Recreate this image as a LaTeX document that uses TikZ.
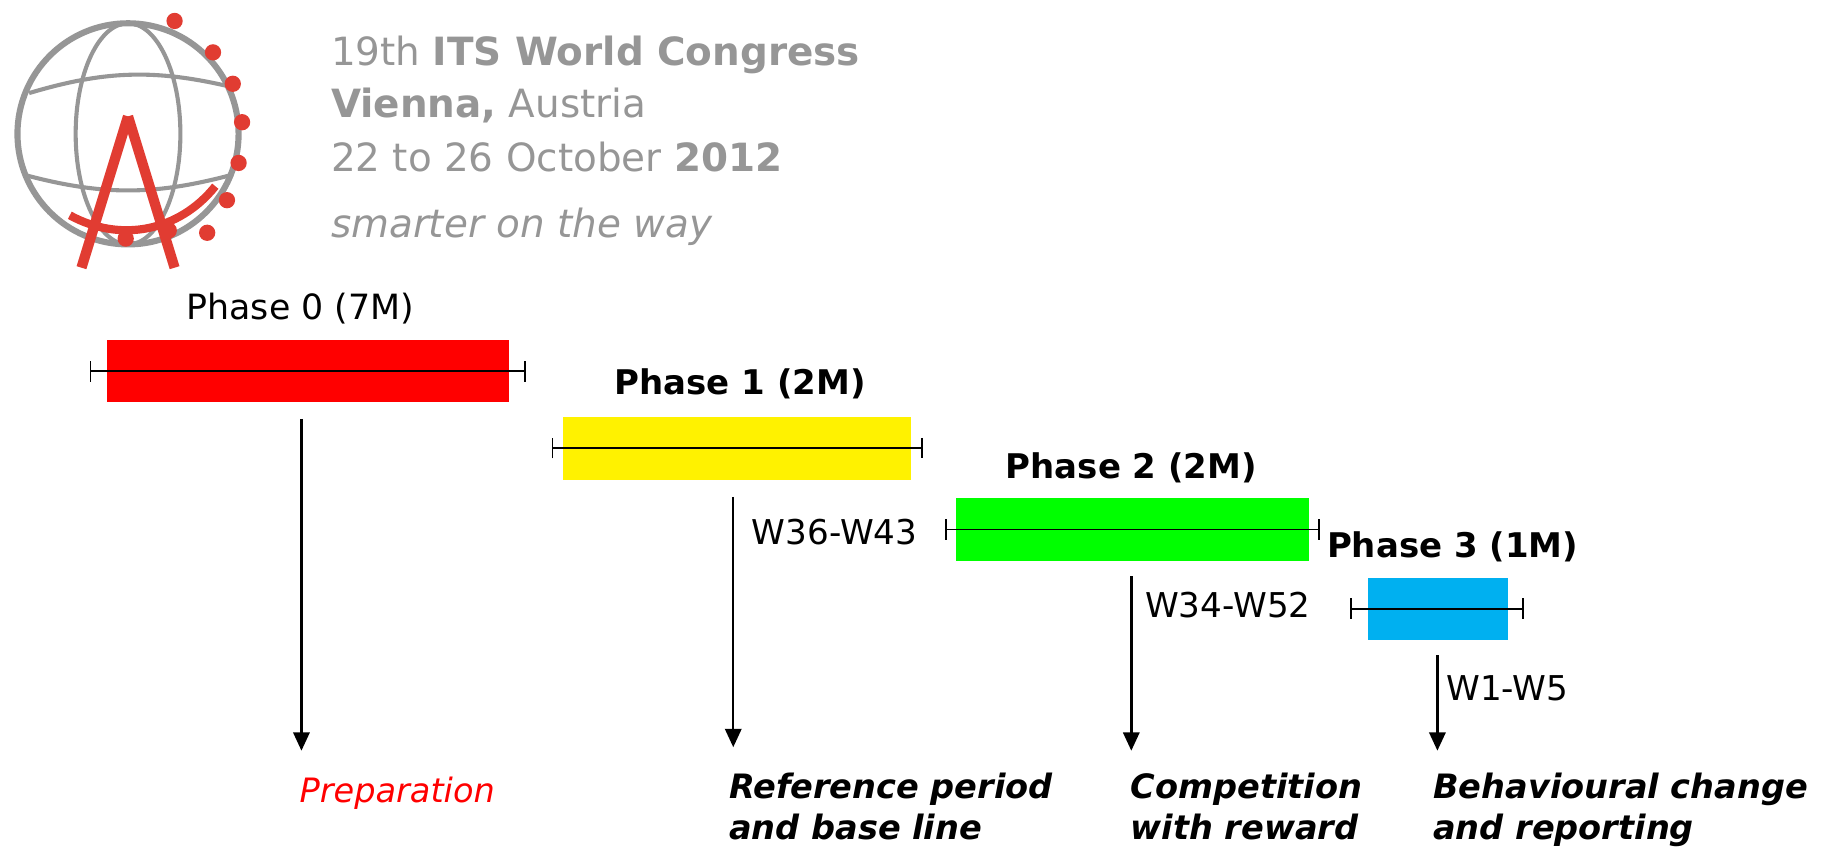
\documentclass[tikz,border=0pt]{standalone}
\usepackage{fontspec}
\setmainfont{DejaVu Sans}
\usetikzlibrary{arrows.meta}
\definecolor{logogray}{RGB}{150,150,150}
\definecolor{logored}{RGB}{225,60,50}
\definecolor{barblue}{RGB}{0,176,240}
\tikzset{
  phaselabel/.style={font=\fontsize{8.5}{10}\selectfont},
  phasebold/.style={font=\fontsize{8.3}{10}\selectfont\bfseries},
  weeklabel/.style={font=\fontsize{8.35}{10}\selectfont},
  goal/.style={font=\fontsize{8.2}{10}\selectfont\bfseries\itshape, align=left, anchor=north west},
  logotext/.style={anchor=west, logogray, font=\fontsize{9.5}{11}\selectfont},
  down/.style={-{Triangle[length=4.5pt,width=4pt]}, semithick},
  span/.style={{Bar[width=5pt]}-{Bar[width=5pt]}, thin}
}
\begin{document}
\begin{tikzpicture}[x=0.01cm, y=-0.01cm]
        \useasboundingbox (0,0) rectangle (1568,740);
        % Logo
        \draw[logogray, line width=1.5pt] (110,115) circle (95);
        \draw[logogray, line width=1pt] (110,115) ellipse (45 and 95);
        \draw[logogray, line width=1pt] (25,80) to[bend left=15] (200,75);
        \draw[logogray, line width=1pt] (20,150) to[bend right=15] (200,150);
        \draw[logored, line width=2.5pt] (110,100) -- (70,230);
        \draw[logored, line width=2.5pt] (110,100) -- (150,230);
        \draw[logored, line width=2pt] (60,185) to[bend right=40] (185,160);
        \foreach \px/\py in {150/18, 183/45, 200/72, 208/105, 205/140, 195/172, 178/200, 145/198, 108/205}
          \fill[logored] (\px,\py) circle (7);
        \node[logotext] (title1) at (272,47) {19th \textbf{ITS World Congress}};
        \node[logotext] (title2) at (272,91) {\textbf{Vienna,} Austria};
        \node[logotext] (title3) at (272,135) {22 to 26 October \textbf{2012}};
        \node[logotext, font=\fontsize{9.5}{11}\selectfont\itshape] (title4) at (272,195) {smarter on the way};

        % Phase 0
        \node[phaselabel] (p0) at (258,265) {Phase 0 (7M)};
        \fill[red] (92,292) rectangle (437,345);
        \draw[span] (77,319) -- (452,319);
        \coordinate (a0) at (259,360);
        \coordinate (b0) at (259,645);
        \draw[down] (a0) -- (b0);
        \node[goal, text=red, font=\fontsize{8.2}{10}\selectfont\itshape] (g0) at (245,655) {Preparation};

        % Phase 1
        \node[phasebold] (p1) at (636,330) {Phase 1 (2M)};
        \fill[yellow] (484,358) rectangle (783,412);
        \draw[span] (474,385) -- (793,385);
        \coordinate (a1) at (630,427);
        \coordinate (b1) at (630,642);
        \draw[down] (a1) -- (b1);
        \node[weeklabel] (w1) at (717,457) {W36-W43};
        \node[goal] (g1) at (614,652) {Reference period\\and base line};

        % Phase 2
        \node[phasebold] (p2) at (972,402) {Phase 2 (2M)};
        \fill[green] (821,428) rectangle (1125,482);
        \draw[span] (812,455) -- (1134,455);
        \coordinate (a2) at (972,495);
        \coordinate (b2) at (972,645);
        \draw[down] (a2) -- (b2);
        \node[weeklabel] (w2) at (1055,520) {W34-W52};
        \node[goal] (g2) at (959,652) {Competition\\with reward};

        % Phase 3
        \node[phasebold] (p3) at (1248,470) {Phase 3 (1M)};
        \fill[barblue] (1175,497) rectangle (1296,550);
        \draw[span] (1160,523) -- (1309,523);
        \coordinate (a3) at (1235,563);
        \coordinate (b3) at (1235,645);
        \draw[down] (a3) -- (b3);
        \node[weeklabel] (w3) at (1295,591) {W1-W5};
        \node[goal] (g3) at (1219,652) {Behavioural change\\and reporting};
\end{tikzpicture}
\end{document}
